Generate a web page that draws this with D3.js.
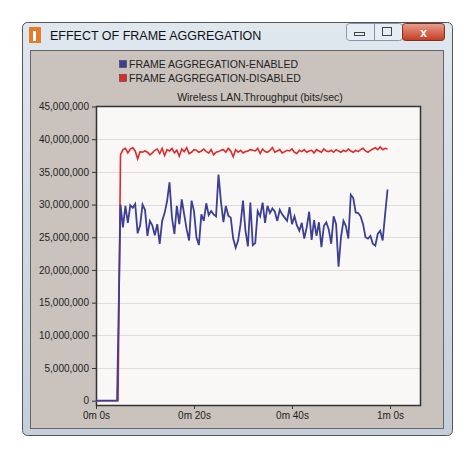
<!DOCTYPE html>
<html><head><meta charset="utf-8">
<script src="https://cdn.jsdelivr.net/npm/d3@7"></script>
<style>body{margin:0;background:#fff}svg{display:block;font-family:"Liberation Sans",Arial,sans-serif}</style>
</head><body><svg id="c" width="474" height="458"></svg>
<script>
const title = "EFFECT OF FRAME AGGREGATION";
const seriesNames = ["FRAME AGGREGATION-ENABLED", "FRAME AGGREGATION-DISABLED"];
const seriesColors = ["#3b3f95", "#e02a2a"];
const yTicks = [0,5e6,10e6,15e6,20e6,25e6,30e6,35e6,40e6,45e6];
const xTicks = [0,20,40,60];
const xTickLabels = ["0m 0s","0m 20s","0m 40s","1m 0s"];
const startTimes = [0, 4.2];
const startValues = [0, 0];
// values in millions, sampled every 0.5 s starting at 5 s
const enabled = [30.0,26.5,29.8,27.2,29.9,29.5,30.1,25.6,26.8,30.0,
29.2,25.2,27.5,26.8,25.3,27.0,24.0,27.5,28.7,30.5,
33.4,28.0,25.5,29.8,27.0,30.8,28.5,26.2,24.5,30.6,
29.0,25.0,23.8,28.5,27.5,30.2,28.4,29.0,28.5,28.2,
34.6,30.5,27.3,29.8,28.3,28.0,24.8,23.4,24.5,27.0,
30.6,26.0,23.6,30.3,23.8,24.1,29.0,28.2,30.3,27.2,
29.8,28.7,29.4,28.9,27.5,29.2,28.5,28.0,27.5,29.6,
27.0,28.2,26.8,26.0,27.2,24.8,26.5,28.9,24.6,27.6,
25.2,27.3,23.5,26.7,27.3,26.2,24.0,28.2,27.0,20.5,
25.0,27.5,26.7,24.8,31.5,31.0,28.8,28.7,28.2,27.0,
25.0,24.8,25.2,24.0,23.7,25.5,26.0,24.5,28.5,32.3];
const disabled = [37.6,38.4,38.6,37.9,38.5,38.7,38.2,37.0,38.1,38.0,
38.2,38.0,37.6,37.9,38.3,38.5,37.8,38.6,37.5,38.4,
38.2,38.6,37.9,38.3,37.4,38.5,38.1,38.7,37.8,38.0,
38.4,38.3,38.0,38.2,38.5,38.1,37.9,38.4,37.6,38.0,
38.1,38.3,38.4,38.0,38.6,38.2,37.3,38.4,38.0,38.3,
37.9,38.1,38.2,38.4,38.3,38.2,38.6,37.8,38.5,38.1,
38.0,38.3,38.7,38.0,38.2,38.4,37.9,38.1,38.3,38.2,
38.5,38.0,37.8,38.3,38.1,38.4,38.0,38.2,38.3,37.9,
38.4,38.2,38.0,38.5,38.2,38.1,38.3,38.0,38.4,38.2,
38.0,38.3,38.1,38.5,38.2,38.0,38.3,38.1,38.4,38.6,
38.2,38.0,38.3,38.5,38.7,38.4,38.8,38.4,38.6,38.5];
const t0 = 5, dt = 0.5;

const svg = d3.select("#c");
const defs = svg.append("defs");
const g1 = defs.append("linearGradient").attr("id","tb").attr("x1",0).attr("y1",0).attr("x2",0).attr("y2",1);
g1.append("stop").attr("offset","0").attr("stop-color","#dfe7ef");
g1.append("stop").attr("offset","1").attr("stop-color","#c3cfdb");
const g2 = defs.append("linearGradient").attr("id","cl").attr("x1",0).attr("y1",0).attr("x2",0).attr("y2",1);
g2.append("stop").attr("offset","0").attr("stop-color","#e8a08f");
g2.append("stop").attr("offset","1").attr("stop-color","#c43b22");

// window
svg.append("rect").attr("x",22.5).attr("y",22.5).attr("width",430).attr("height",413).attr("rx",5).attr("fill","url(#tb)").attr("stroke","#555");
svg.append("rect").attr("x",29).attr("y",27).attr("width",12).attr("height",16).attr("fill","#e57a2a");
svg.append("rect").attr("x",33).attr("y",31).attr("width",3).attr("height",10).attr("fill","#fff");
svg.append("text").attr("x",50).attr("y",40).attr("font-size",12.5).attr("fill","#111").text(title);
svg.append("rect").attr("x",346.5).attr("y",23.5).attr("width",56).attr("height",17).attr("rx",3).attr("fill","#e6edf4").attr("stroke","#8a96a3");
svg.append("line").attr("x1",374.5).attr("x2",374.5).attr("y1",24).attr("y2",40).attr("stroke","#8a96a3");
svg.append("rect").attr("x",354.5).attr("y",32.5).attr("width",10).attr("height",3).attr("fill","none").attr("stroke","#444");
svg.append("rect").attr("x",382.5).attr("y",27.5).attr("width",9).attr("height",8).attr("fill","none").attr("stroke","#444");
svg.append("rect").attr("x",402.5).attr("y",23.5).attr("width",42).attr("height",17).attr("rx",3).attr("fill","url(#cl)").attr("stroke","#7a3020");
svg.append("text").attr("x",423.5).attr("y",37).attr("text-anchor","middle").attr("font-size",12).attr("font-weight","bold").attr("fill","#fff").text("x");
svg.append("rect").attr("x",30.5).attr("y",50.5).attr("width",413).attr("height",378).attr("fill","#c9c2bd").attr("stroke","#666");

// legend
seriesNames.forEach((n,i)=>{
  const y = 60 + i*14;
  svg.append("rect").attr("x",119.5).attr("y",y+0.5).attr("width",7).attr("height",7).attr("fill",seriesColors[i]).attr("stroke","#333").attr("stroke-width",0.5);
  svg.append("text").attr("x",129).attr("y",y+8).attr("font-size",10.5).attr("fill","#222").text(n);
});
svg.append("text").attr("x",260).attr("y",101).attr("text-anchor","middle").attr("font-size",10.5).attr("fill","#222").text("Wireless LAN.Throughput (bits/sec)");

// plot
const L=96, R=420, T=106, B=405;
const x = d3.scaleLinear().domain([0,66]).range([96, 96 + 66*4.9]);
const y = d3.scaleLinear().domain([0,45e6]).range([400.7,106.5]);
svg.append("rect").attr("x",L+0.5).attr("y",T+0.5).attr("width",R-L).attr("height",B-T).attr("fill","#faf8f6");
svg.append("g").selectAll("line").data(yTicks.slice(1,-1)).join("line")
  .attr("x1",L+1).attr("x2",R).attr("y1",d=>Math.round(y(d))+0.5).attr("y2",d=>Math.round(y(d))+0.5)
  .attr("stroke","#e2dcd8");
svg.append("rect").attr("x",L+0.5).attr("y",T+0.5).attr("width",R-L).attr("height",B-T).attr("fill","none").attr("stroke","#333").attr("stroke-width",1.5);

const line = d3.line().x(d=>x(d[0])).y(d=>y(d[1]));
const mk = (arr, start)=> startTimes.map((t,i)=>[t,startValues[i]]).concat([[start,0]]).concat(arr.map((v,i)=>[t0+i*dt, v*1e6]));
svg.append("path").datum(mk(disabled,4.5)).attr("d",line).attr("fill","none").attr("stroke",seriesColors[1]).attr("stroke-width",1.6);
svg.append("path").datum(mk(enabled,4.3)).attr("d",line).attr("fill","none").attr("stroke",seriesColors[0]).attr("stroke-width",1.8);

const ya = svg.append("g").attr("transform",`translate(${L},0)`).call(d3.axisLeft(y).tickValues(yTicks).tickSize(4).tickFormat(d3.format(",")));
ya.select(".domain").remove();
ya.selectAll("text").attr("font-size",10).attr("fill","#222").attr("font-family","Liberation Sans, Arial");
ya.selectAll("line").attr("stroke","#333");
const xa = svg.append("g").attr("transform",`translate(0,${B})`).call(d3.axisBottom(x).tickValues(xTicks).tickSize(4).tickFormat((d,i)=>xTickLabels[i]));
xa.select(".domain").remove();
xa.selectAll("text").attr("font-size",10).attr("fill","#222").attr("font-family","Liberation Sans, Arial");
xa.selectAll("line").attr("stroke","#333");
</script></body></html>
